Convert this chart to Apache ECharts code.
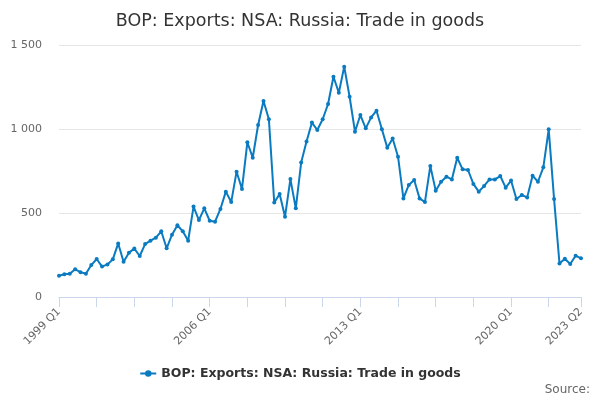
<!DOCTYPE html>
<html>
<head>
<meta charset="utf-8">
<script src="https://cdn.jsdelivr.net/npm/echarts@6/dist/echarts.min.js"></script>
<style>html,body{margin:0;padding:0;background:#fff}#c{width:600px;height:400px}</style>
</head>
<body>
<div id="c"></div>
<script>
var startYear = 1999;
var quarterCount = 98;
var categories = [];
for (var k = 0; k < quarterCount; k++) {
  categories.push((startYear + Math.floor(k / 4)) + ' Q' + (k % 4 + 1));
}
var seriesName = 'BOP: Exports: NSA: Russia: Trade in goods';
var exportsValues = [
  127, 135, 138, 165, 148, 138, 190, 226, 181, 194,
  224, 319, 210, 264, 288, 244, 315, 335, 353, 391,
  290, 371, 427, 391, 335, 538, 458, 528, 454, 448,
  524, 627, 565, 746, 643, 921, 829, 1024, 1167, 1058,
  562, 613, 478, 702, 528, 800, 925, 1038, 994, 1058,
  1149, 1311, 1216, 1371, 1192, 984, 1083, 1004, 1069, 1109,
  998, 889, 944, 835, 587, 667, 696, 587, 565, 780,
  633, 686, 716, 700, 829, 760, 756, 673, 627, 661,
  700, 700, 720, 651, 693, 583, 607, 593, 722, 686,
  772, 998, 583, 200, 228, 196, 246, 230
];
var yTicks = [0, 500, 1000, 1500];
var labelIdx = [0, 28, 56, 84, 97];

var chart = echarts.init(document.getElementById('c'), null, {renderer: 'canvas'});
var font = 'DejaVu Sans, sans-serif';
chart.setOption({
  animation: false,
  textStyle: {fontFamily: font},
  title: {
    text: 'BOP: Exports: NSA: Russia: Trade in goods',
    left: 'center', top: 7,
    textStyle: {fontFamily: font, fontSize: 17.5, fontWeight: 'normal', color: '#333333'}
  },
  graphic: [{
    type: 'text', right: 10, bottom: 4,
    style: {text: 'Source:', fontFamily: font, fontSize: 12, fill: '#666666'}
  }],
  legend: {
    bottom: 15, left: 'center',
    itemWidth: 16, itemHeight: 8,
    textStyle: {fontFamily: font, fontSize: 12.5, fontWeight: 'bold', color: '#333333'},
    data: [seriesName]
  },
  grid: {left: 59, right: 19, top: 45, bottom: 103, containLabel: false},
  xAxis: {
    type: 'category',
    data: categories,
    boundaryGap: false,
    axisLine: {lineStyle: {color: '#ccd6eb', width: 1}},
    axisTick: {
      show: true, length: 10, alignWithLabel: true,
      lineStyle: {color: '#ccd6eb'},
      interval: function (i) { return i % 7 === 0 || i === quarterCount - 1; }
    },
    axisLabel: {
      rotate: 45, fontSize: 11, color: '#666666', fontFamily: font, margin: 13,
      interval: function (i) { return labelIdx.indexOf(i) >= 0; }
    },
    splitLine: {show: false}
  },
  yAxis: {
    type: 'value', min: yTicks[0], max: yTicks[yTicks.length - 1], interval: 500,
    axisLine: {show: false}, axisTick: {show: false},
    splitLine: {lineStyle: {color: '#e6e6e6'}},
    axisLabel: {
      fontSize: 11, color: '#666666', fontFamily: font, margin: 17,
      formatter: function (v) { return String(v).replace(/\B(?=(\d{3})+(?!\d))/g, ' '); }
    }
  },
  series: [{
    name: seriesName,
    type: 'line',
    data: exportsValues,
    color: '#0a7bc1',
    lineStyle: {width: 2, color: '#0a7bc1'},
    symbol: 'circle', symbolSize: 4, showAllSymbol: true,
    itemStyle: {color: '#0a7bc1'}
  }]
});
</script>
</body>
</html>
